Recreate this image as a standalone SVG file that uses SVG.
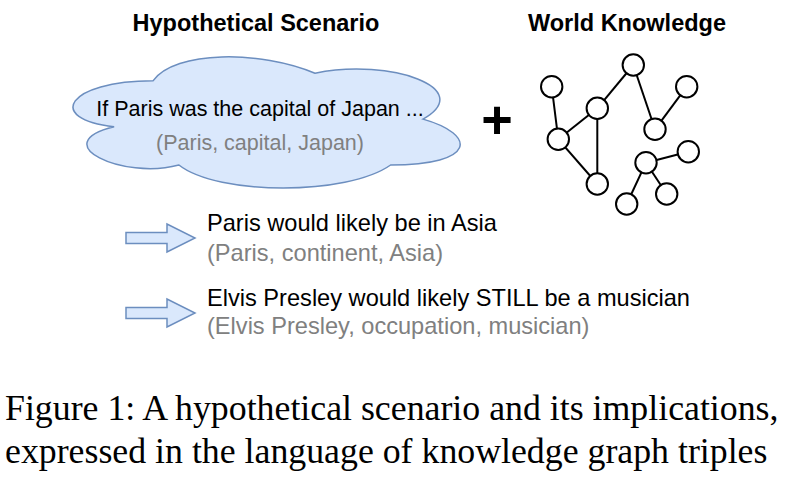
<svg xmlns="http://www.w3.org/2000/svg" width="806" height="492" viewBox="0 0 806 492">
<style>
.title{font-family:"Liberation Sans",Arial,sans-serif;font-weight:bold;font-size:23.5px;fill:#000;text-anchor:middle}
.lbl{font-family:"Liberation Sans",Arial,sans-serif;font-size:23.6px;fill:#000}
.trip{font-family:"Liberation Sans",Arial,sans-serif;font-size:23.6px;fill:#808080}
.ctext{font-family:"Liberation Sans",Arial,sans-serif;font-size:21.5px;text-anchor:middle}
.cap{font-family:"Liberation Serif","Times New Roman",serif;font-size:35.8px;fill:#000}
.blue{fill:#dae8fc;stroke:#6c8ebf;stroke-width:1.5}
.node{fill:#fff;stroke:#000;stroke-width:2}
.edge{stroke:#000;stroke-width:2;fill:none}
</style>
<defs>
<path id="arrow" d="M0,-5.5 H41 V-14 L69,0 L41,14 V5.5 H0 Z"/>
</defs>
<rect width="806" height="492" fill="#fff"/>
<text class="title" x="256" y="31">Hypothetical Scenario</text>
<text class="title" x="627" y="31">World Knowledge</text>
<g id="cloud">
<path class="blue" transform="translate(45,42.6) scale(432,153)" vector-effect="non-scaling-stroke" d="M0.25,0.25 C0.05,0.25 0,0.5 0.16,0.55 C0,0.66 0.18,0.9 0.31,0.8 C0.4,1 0.7,1 0.8,0.8 C1,0.8 1,0.6 0.875,0.5 C1,0.3 0.8,0.1 0.625,0.2 C0.5,0.05 0.3,0.05 0.25,0.25 Z"/>
<text class="ctext" x="260" y="116" fill="#000">If Paris was the capital of Japan ...</text>
<text class="ctext" x="260" y="150" fill="#808080">(Paris, capital, Japan)</text>
</g>
<text x="497" y="138" font-family="Liberation Sans,Arial,sans-serif" font-weight="bold" font-size="54" text-anchor="middle">+</text>
<g id="connectors">
<line class="edge" x1="551.7" y1="86.7" x2="558.3" y2="139.3"/>
<line class="edge" x1="558.3" y1="139.3" x2="597.3" y2="108.3"/>
<line class="edge" x1="597.3" y1="108.3" x2="633.3" y2="65"/>
<line class="edge" x1="597.3" y1="108.3" x2="597.3" y2="184"/>
<line class="edge" x1="558.3" y1="139.3" x2="597.3" y2="184"/>
<line class="edge" x1="633.3" y1="65" x2="655" y2="129.3"/>
<line class="edge" x1="655" y1="129.3" x2="686.7" y2="86.7"/>
<line class="edge" x1="646" y1="162.7" x2="688.3" y2="151.7"/>
<line class="edge" x1="646" y1="162.7" x2="666.7" y2="194"/>
<line class="edge" x1="646" y1="162.7" x2="626.7" y2="204"/>
</g>
<g id="graph">
<circle class="node" cx="551.7" cy="86.7" r="10.7"/>
<circle class="node" cx="633.3" cy="65" r="10.7"/>
<circle class="node" cx="686.7" cy="86.7" r="10.7"/>
<circle class="node" cx="597.3" cy="108.3" r="10.7"/>
<circle class="node" cx="558.3" cy="139.3" r="10.7"/>
<circle class="node" cx="655" cy="129.3" r="10.7"/>
<circle class="node" cx="688.3" cy="151.7" r="10.7"/>
<circle class="node" cx="646" cy="162.7" r="10.7"/>
<circle class="node" cx="597.3" cy="184" r="10.7"/>
<circle class="node" cx="666.7" cy="194" r="10.7"/>
<circle class="node" cx="626.7" cy="204" r="10.7"/>
</g>
<g id="implication1">
<use href="#arrow" class="blue" x="126" y="238"/>
<text class="lbl" x="207" y="230.5">Paris would likely be in Asia</text>
<text class="trip" x="207" y="260.5">(Paris, continent, Asia)</text>
</g>
<g id="implication2">
<use href="#arrow" class="blue" x="126" y="313"/>
<text class="lbl" x="207" y="305.5">Elvis Presley would likely STILL be a musician</text>
<text class="trip" x="207" y="333.5">(Elvis Presley, occupation, musician)</text>
</g>
<text class="cap" x="5" y="420">Figure 1: A hypothetical scenario and its implications,</text>
<text class="cap" x="5" y="463">expressed in the language of knowledge graph triples</text>
</svg>
